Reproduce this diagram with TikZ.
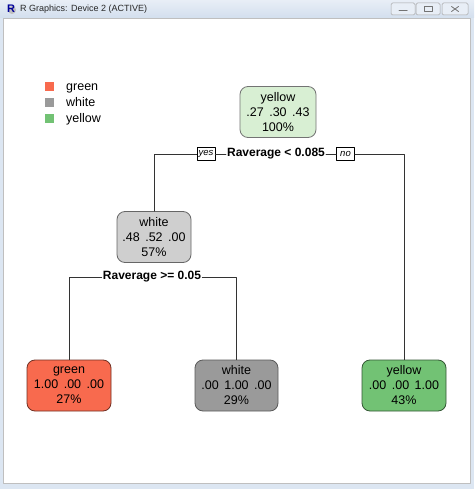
\documentclass[tikz,border=0pt]{standalone}
\usepackage{fontspec}
\setmainfont{Liberation Sans}
\usetikzlibrary{positioning}

\definecolor{rootfill}{HTML}{D8EFD3}
\definecolor{midfill}{HTML}{CFCFCF}
\definecolor{redleaf}{HTML}{F86A4E}
\definecolor{grayleaf}{HTML}{9A9A9A}
\definecolor{greenleaf}{HTML}{72C274}
\definecolor{framebg}{HTML}{DCE6F2}
\definecolor{titletop}{HTML}{E8EEF6}
\definecolor{titlebot}{HTML}{D3DFEE}

\newcommand{\probgap}{\hspace{5.5pt}}

\tikzset{
  treebox/.style={draw, rounded corners=8pt, line width=0.8pt, align=center,
    inner sep=0pt, minimum height=51pt, font=\fontsize{12.5}{15}\selectfont},
  splitlabel/.style={font=\fontsize{12}{14}\selectfont\bfseries, inner sep=1pt},
  yesno/.style={draw, fill=white, line width=0.5pt, inner sep=0pt,
    minimum width=18pt, minimum height=13pt, font=\fontsize{9.5}{11}\selectfont\itshape},
  legendkey/.style={minimum size=9pt, inner sep=0pt},
  legendtext/.style={anchor=west, inner sep=0pt, text height=8.8pt, text depth=2.6pt,
    font=\fontsize{12.5}{14}\selectfont},
  winbutton/.style={draw=gray!70, fill=titletop, rounded corners=1.5pt, line width=0.5pt},
  branch/.style={line width=0.8pt, draw=black!80}
}

\begin{document}
\begin{tikzpicture}[x=1pt, y=-1pt, line cap=round, line join=round]
  \useasboundingbox (0,0) rectangle (474,489);

  % Window frame
  \fill[framebg] (0,0) rectangle (474,489);
  \shade[top color=titletop, bottom color=titlebot] (0,0) rectangle (474,18);
  \fill[white] (3,18) rectangle (470,483);
  \draw[black!25, line width=0.4pt] (3,18) rectangle (470,483);

  % Title bar
  \fill[black!25] (12,10) circle (4pt);
  \node[font=\fontsize{11}{11}\selectfont\bfseries, text=blue!60!black, inner sep=0pt] (ricon) at (11,9) {R};
  \node[anchor=west, inner sep=0pt, font=\fontsize{9}{9}\selectfont, text=black!85] (wintitle) at (20,9) {R Graphics: Device 2 (ACTIVE)};
  \draw[winbutton] (391,3) rectangle (415,15);
  \draw[winbutton] (416,3) rectangle (440,15);
  \draw[winbutton] (442,3) rectangle (468,15);
  \draw[black!55, line width=1pt] (399,11) -- (407,11);
  \draw[black!55, line width=0.7pt] (424,6.5) rectangle (432,11.5);
  \draw[black!55, line width=0.8pt] (451.5,6.5) -- (458.5,11.5) (451.5,11.5) -- (458.5,6.5);

  % Legend
  \node[legendkey, fill=redleaf] (keygreen) at (49.5,87) {};
  \node[legendkey, fill=grayleaf] (keywhite) at (49.5,103) {};
  \node[legendkey, fill=greenleaf] (keyyellow) at (49.5,119) {};
  \node[legendtext] at (66,87) {green};
  \node[legendtext] at (66,103) {white};
  \node[legendtext] at (66,119) {yellow};

  % Tree nodes
  \node[treebox, fill=rootfill, draw=black!55, minimum width=76pt] (root) at (278,112)
    {yellow\\.27\probgap.30\probgap.43\\100\%};
  \node[treebox, fill=midfill, draw=black!60, minimum width=74pt] (mid) at (154,237)
    {white\\.48\probgap.52\probgap.00\\57\%};
  \node[treebox, fill=redleaf, draw=redleaf!45!black, minimum width=84pt] (leafgreen) at (69,385.5)
    {green\\1.00\probgap.00\probgap.00\\27\%};
  \node[treebox, fill=grayleaf, draw=black!65, minimum width=83pt] (leafwhite) at (236.5,385.5)
    {white\\.00\probgap1.00\probgap.00\\29\%};
  \node[treebox, fill=greenleaf, draw=greenleaf!45!black, minimum width=84pt] (leafyellow) at (404,385.5)
    {yellow\\.00\probgap.00\probgap1.00\\43\%};

  % Split labels
  \node[splitlabel] (split1) at (276,154) {Raverage < 0.085};
  \node[yesno] (yes1) at (206,154) {yes};
  \node[yesno] (no1) at (345.5,154) {no};
  \node[splitlabel] (split2) at (152,277) {Raverage >= 0.05};

  % Branches
  \draw[branch] (yes1.west) -| (mid.north);
  \draw[branch] (yes1.east) -- (split1.west);
  \draw[branch] (split1.east) -- (no1.west);
  \draw[branch] (no1.east) -| (leafyellow.north);
  \draw[branch] (split2.west) -| (leafgreen.north);
  \draw[branch] (split2.east) -| (leafwhite.north);
\end{tikzpicture}
\end{document}
